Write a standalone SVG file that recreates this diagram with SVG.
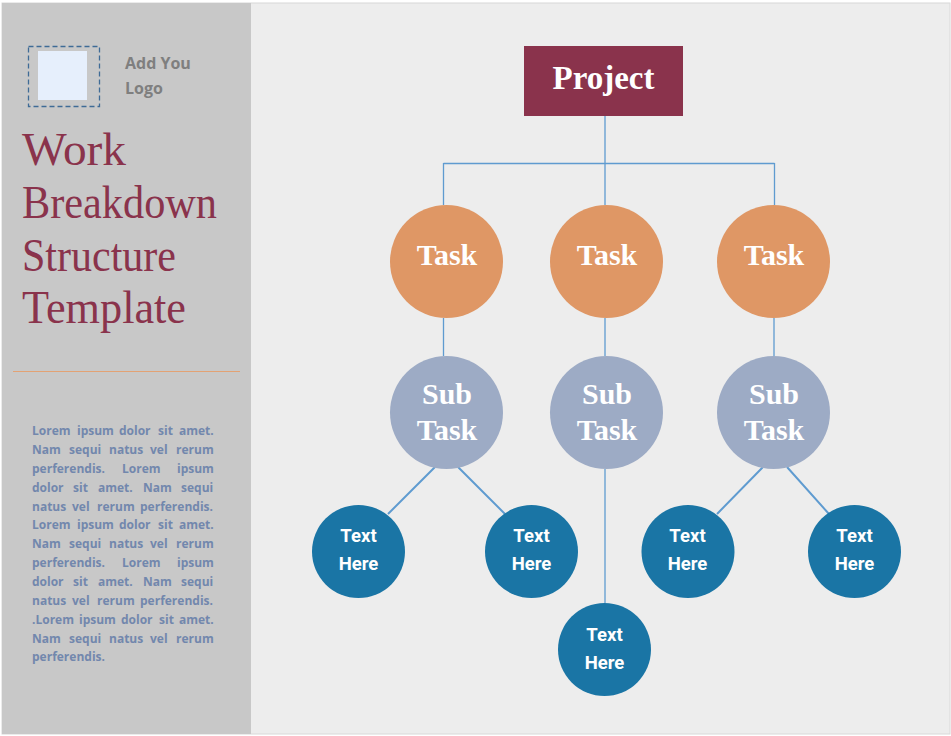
<svg xmlns="http://www.w3.org/2000/svg" width="951" height="736" viewBox="0 0 951 736">
<style>
.ser{font-family:"Liberation Serif",serif}
.tt{font-size:46px;fill:#8a334c;font-family:"Liberation Serif",serif}
.tk{font-size:30px;font-weight:700;fill:#fff;text-anchor:middle;font-family:"Liberation Serif",serif}
.tx{font-size:18.500px;font-weight:700;fill:#fff;text-anchor:middle;font-family:Roboto,sans-serif}
.lg{font-size:16px;font-weight:700;fill:#7f7f7f;font-family:"Open Sans",sans-serif}
.bd{font-size:12px;font-weight:700;fill:#7287ad;font-family:"Open Sans",sans-serif}
.c{stroke:#5f9bd0;stroke-width:1.300;fill:none}
.d{stroke-width:2}
.t1{fill:#df9765}.t2{fill:#9dabc5}.t3{fill:#1a75a5}
</style>
<rect width="951" height="736" fill="#fff"/>
<rect x="2" y="3" width="948" height="731" fill="#ededed" stroke="#d8d8d8"/>
<g id="sidebar">
<rect x="2" y="3" width="249" height="731" fill="#c8c8c8"/>
<rect x="28.500" y="46.500" width="71" height="60" fill="none" stroke="#3f6b96" stroke-width="1.300" stroke-dasharray="5 3"/>
<rect x="38" y="51" width="49" height="49" fill="#e6effc"/>
<text class="lg" x="125" y="68.500">Add You</text>
<text class="lg" x="125" y="93.500">Logo</text>
<text class="tt" x="22" y="165" textLength="104" lengthAdjust="spacingAndGlyphs">Work</text>
<text class="tt" x="22" y="218" textLength="195" lengthAdjust="spacingAndGlyphs">Breakdown</text>
<text class="tt" x="22" y="271" textLength="154" lengthAdjust="spacingAndGlyphs">Structure</text>
<text class="tt" x="22" y="323" textLength="164" lengthAdjust="spacingAndGlyphs">Template</text>
<rect x="13" y="371" width="227" height="1" fill="#e3a274"/>
<text class="bd" y="435"><tspan x="32">Lorem</tspan><tspan x="77">ipsum</tspan><tspan x="119">dolor</tspan><tspan x="158">sit</tspan><tspan x="179">amet.</tspan></text>
<text class="bd" y="454"><tspan x="32">Nam</tspan><tspan x="69">sequi</tspan><tspan x="109">natus</tspan><tspan x="150">vel</tspan><tspan x="176">rerum</tspan></text>
<text class="bd" y="473"><tspan x="32">perferendis.</tspan><tspan x="122">Lorem</tspan><tspan x="177">ipsum</tspan></text>
<text class="bd" y="492"><tspan x="32">dolor</tspan><tspan x="73">sit</tspan><tspan x="98">amet.</tspan><tspan x="143">Nam</tspan><tspan x="181">sequi</tspan></text>
<text class="bd" y="510.500"><tspan x="32">natus</tspan><tspan x="72">vel</tspan><tspan x="97">rerum</tspan><tspan x="140">perferendis.</tspan></text>
<text class="bd" y="529"><tspan x="32">Lorem</tspan><tspan x="77">ipsum</tspan><tspan x="119">dolor</tspan><tspan x="158">sit</tspan><tspan x="179">amet.</tspan></text>
<text class="bd" y="548"><tspan x="32">Nam</tspan><tspan x="69">sequi</tspan><tspan x="109">natus</tspan><tspan x="150">vel</tspan><tspan x="176">rerum</tspan></text>
<text class="bd" y="567"><tspan x="32">perferendis.</tspan><tspan x="122">Lorem</tspan><tspan x="177">ipsum</tspan></text>
<text class="bd" y="586"><tspan x="32">dolor</tspan><tspan x="73">sit</tspan><tspan x="98">amet.</tspan><tspan x="143">Nam</tspan><tspan x="181">sequi</tspan></text>
<text class="bd" y="605"><tspan x="32">natus</tspan><tspan x="72">vel</tspan><tspan x="97">rerum</tspan><tspan x="140">perferendis.</tspan></text>
<text class="bd" y="624"><tspan x="32">.Lorem</tspan><tspan x="79">ipsum</tspan><tspan x="121">dolor</tspan><tspan x="159">sit</tspan><tspan x="179">amet.</tspan></text>
<text class="bd" y="643"><tspan x="32">Nam</tspan><tspan x="69">sequi</tspan><tspan x="109">natus</tspan><tspan x="150">vel</tspan><tspan x="176">rerum</tspan></text>
<text class="bd" y="661"><tspan x="32">perferendis.</tspan></text>
</g>
<g id="connectors" class="c">
<path d="M605 116V205M443.500 163.500H774.500M443.500 163V205M774.500 163V205"/>
<path d="M443.500 318V356M605 318V356M774 318V356"/>
<path d="M605 469V603"/>
<path class="d" d="M435 467L388 514M458 467L505 514M763 467L717 514M787 467L829 514"/>
</g>
<g id="project"><rect x="524" y="46" width="159" height="70" fill="#8a334c"/><text class="ser" x="603.500" y="89" font-size="33" font-weight="700" fill="#fff" text-anchor="middle">Project</text></g>
<g id="task1"><circle class="t1" cx="446.500" cy="261.500" r="56.500"/><text class="tk" x="447" y="265">Task</text></g>
<g id="task2"><circle class="t1" cx="606.500" cy="261.500" r="56.500"/><text class="tk" x="607" y="265">Task</text></g>
<g id="task3"><circle class="t1" cx="773.500" cy="261.500" r="56.500"/><text class="tk" x="774" y="265">Task</text></g>
<g id="sub1"><circle class="t2" cx="446.500" cy="412.500" r="56.500"/><text class="tk" x="447" y="404">Sub</text><text class="tk" x="447" y="440">Task</text></g>
<g id="sub2"><circle class="t2" cx="606.500" cy="412.500" r="56.500"/><text class="tk" x="607" y="404">Sub</text><text class="tk" x="607" y="440">Task</text></g>
<g id="sub3"><circle class="t2" cx="773.500" cy="412.500" r="56.500"/><text class="tk" x="774" y="404">Sub</text><text class="tk" x="774" y="440">Task</text></g>
<g id="leaf1"><circle class="t3" cx="358.500" cy="551.500" r="46.500"/><text class="tx" x="358.500" y="542">Text</text><text class="tx" x="358.500" y="570">Here</text></g>
<g id="leaf2"><circle class="t3" cx="531.500" cy="551.500" r="46.500"/><text class="tx" x="531.500" y="542">Text</text><text class="tx" x="531.500" y="570">Here</text></g>
<g id="leaf3"><circle class="t3" cx="604.500" cy="649.500" r="46.500"/><text class="tx" x="604.500" y="641">Text</text><text class="tx" x="604.500" y="669">Here</text></g>
<g id="leaf4"><circle class="t3" cx="688" cy="551.500" r="46.500"/><text class="tx" x="687.500" y="542">Text</text><text class="tx" x="687.500" y="570">Here</text></g>
<g id="leaf5"><circle class="t3" cx="854.500" cy="551.500" r="46.500"/><text class="tx" x="854.500" y="542">Text</text><text class="tx" x="854.500" y="570">Here</text></g>
</svg>
